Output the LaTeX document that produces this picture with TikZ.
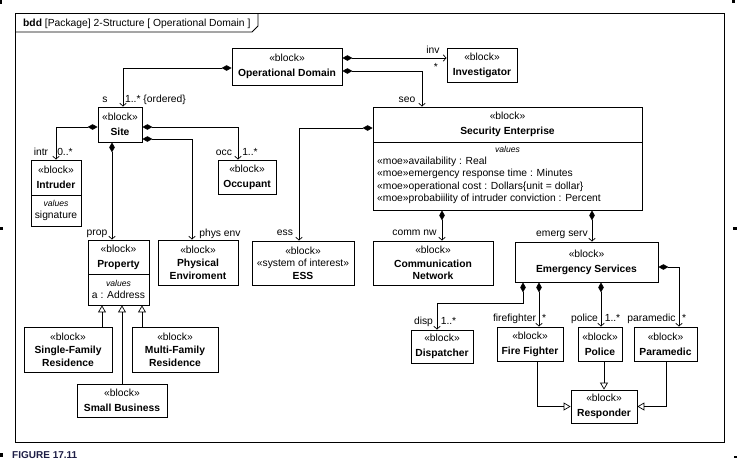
\documentclass[tikz,border=0pt]{standalone}
\usepackage{fontspec}
\setmainfont{Liberation Sans}
\usetikzlibrary{arrows.meta,calc}
\newcommand\fs{\fontsize{10.3}{12.3}\selectfont}
\newcommand\vfs{\fontsize{8.6}{9.5}\selectfont\itshape}
\newcommand\mkblk[6]{\node[blk,minimum width={#4-#2},minimum height={#5-#3}] (#1) at ({(#2+#4)/2},{(#3+#5)/2}) {#6};}
\tikzset{
  blk/.style={draw, line width=0.8pt, inner sep=0pt, align=center, font=\fs},
  assoc/.style={line width=0.7pt, arrows={Diamond[length=10pt,width=5.5pt]-Straight Barb[length=3pt,width=6.5pt]}},
  gen/.style={line width=0.7pt, arrows={-Triangle[open,length=7pt,width=8pt]}},
  lbl/.style={font=\fs, inner sep=0pt, anchor=base},
}
\begin{document}
\begin{tikzpicture}[x=1pt,y=-1pt]
\useasboundingbox (0,0) rectangle (737,459);
\clip (0,0) rectangle (737,459);
% crop marks
\fill (0,0) rectangle (2,4);
\fill (732,0) rectangle (735,3);
\fill (0,227) rectangle (3,230);
\fill (733,227) rectangle (737,230);
\fill (0,453) rectangle (3,457);
\fill (734,456) rectangle (737,458);
\node[anchor=base west, inner sep=0pt, font=\fontsize{10}{12}\selectfont\bfseries, text={rgb,255:red,30;green,30;blue,70}] (fig) at (12,458.3) {FIGURE 17.11};
% frame
\draw[line width=0.9pt] (15,13) rectangle (724,442);
\draw[line width=0.9pt] (15,32) -- (252,32) -- (258,26) -- (258,13);
\node[anchor=base west, inner sep=0pt, font=\fs] (title) at (23,26.5) {\textbf{bdd} [Package] 2-Structure [ Operational Domain ]};
% blocks
\mkblk{od}{232}{48}{342}{85}{«block»\\[2.5pt]\textbf{Operational Domain}}
\mkblk{inv}{447}{48}{517}{82}{«block»\\[2.5pt]\textbf{Investigator}}
\mkblk{site}{98}{107}{142}{142}{«block»\\[2.5pt]\textbf{Site}}
\mkblk{int}{31}{160}{81}{195}{«block»\\[2.5pt]\textbf{Intruder}}
\mkblk{intc}{31}{195}{81}{226}{{\vfs values}\\signature}
\mkblk{occ}{218}{160}{276}{194}{«block»\\[2.5pt]\textbf{Occupant}}
\mkblk{prop}{88}{240}{149}{274}{«block»\\[2.5pt]\textbf{Property}}
\mkblk{propc}{88}{274}{149}{305}{{\vfs values}\\a : Address}
\mkblk{pe}{158}{240}{238}{285}{«block»\\[1.5pt]\textbf{Physical}\\\textbf{Enviroment}}
\mkblk{sfr}{24}{327}{112}{372}{«block»\\[1.5pt]\textbf{Single-Family}\\\textbf{Residence}}
\mkblk{mfr}{132}{327}{218}{372}{«block»\\[1.5pt]\textbf{Multi-Family}\\\textbf{Residence}}
\mkblk{sb}{77}{384}{167}{417}{«block»\\[2.5pt]\textbf{Small Business}}
\mkblk{se}{373}{107}{642}{142}{«block»\\[2.5pt]\textbf{Security Enterprise}}
\mkblk{sec}{373}{142}{642}{210}{}
\node[font=\vfs, inner sep=0pt, anchor=base] (secv) at (507.5,152) {values};
\node[font=\fs, inner sep=0pt, anchor=base west] (m1) at (377,164.5) {«moe»availability : Real};
\node[font=\fs, inner sep=0pt, anchor=base west] (m2) at (377,176.8) {«moe»emergency response time : Minutes};
\node[font=\fs, inner sep=0pt, anchor=base west] (m3) at (377,189.1) {«moe»operational cost : Dollars\{unit = dollar\}};
\node[font=\fs, inner sep=0pt, anchor=base west] (m4) at (377,201.4) {«moe»probabiility of intruder conviction : Percent};
\mkblk{ess}{252}{241}{354}{285}{«block»\\«system of interest»\\[0.5pt]\textbf{ESS}}
\mkblk{cn}{373}{241}{493}{285}{«block»\\[1.5pt]\textbf{Communication}\\\textbf{Network}}
\mkblk{es}{515}{242}{658}{282}{«block»\\[2.5pt]\textbf{Emergency Services}}
\mkblk{disp}{411}{330}{473}{363}{«block»\\[2.5pt]\textbf{Dispatcher}}
\mkblk{ff}{497}{327}{563}{361}{«block»\\[2.5pt]\textbf{Fire Fighter}}
\mkblk{pol}{578}{327}{622}{361}{«block»\\[2.5pt]\textbf{Police}}
\mkblk{par}{634}{327}{697}{361}{«block»\\[2.5pt]\textbf{Paramedic}}
\mkblk{resp}{571}{390}{637}{423}{«block»\\[2.5pt]\textbf{Responder}}
% associations
\draw[assoc] ([yshift=-1.5]od.west) -| ([xshift=3]site.north);
\coordinate (pInv) at ([yshift=8.5]od.east);
\draw[assoc] (pInv) -- (pInv -| inv.west);
\draw[assoc] ([yshift=-4.5]od.east) -| ([xshift=-85.5]se.north);
\draw[assoc] ([yshift=-2.5]site.west) -| (int.north);
\draw[assoc] ([yshift=-2.5]site.east) -| ([xshift=-9]occ.north);
\draw[assoc] ([yshift=-14.5]site.east) -| ([xshift=-6]pe.north);
\coordinate (pProp) at ([xshift=-8]site.south);
\draw[assoc] (pProp) -- (pProp |- prop.north);
\draw[assoc] ([yshift=-3.5]se.west) -| ([xshift=-4]ess.north);
\coordinate (pCn) at ([xshift=-65.5]sec.south);
\draw[assoc] (pCn) -- (pCn |- cn.north);
\coordinate (pEs) at ([xshift=84.5]sec.south);
\draw[assoc] (pEs) -- (pEs |- es.north);
\draw[assoc] ([xshift=-63.5]es.south) -- ++(0,21) -| ([xshift=-5]disp.north);
\coordinate (pFf) at ([xshift=-47.5]es.south);
\draw[assoc] (pFf) -- (pFf |- ff.north);
\coordinate (pPol) at ([xshift=14.5]es.south);
\draw[assoc] (pPol) -- (pPol |- pol.north);
\draw[assoc] ([yshift=-5]es.east) -| ([xshift=13.5]par.north);
% generalizations
\draw[gen] ([xshift=7]ff.south) |- (resp.west);
\draw[gen] (resp.north |- pol.south) -- (resp.north);
\draw[gen] ([xshift=0.5]par.south) |- (resp.east);
\coordinate (g1) at ([xshift=-16.5]propc.south);
\draw[gen] (g1 |- sfr.north) -- (g1);
\coordinate (g2) at ([xshift=3.5]propc.south);
\draw[gen] (g2 |- sb.north) -- (g2);
\coordinate (g3) at ([xshift=23.5]propc.south);
\draw[gen] (g3 |- mfr.north) -- (g3);
% labels
\node[lbl] (l1) at (433,53.5) {inv};
\node[lbl] (l2) at (436,70) {*};
\node[lbl] (l3) at (407,102.5) {seo};
\node[lbl] (l4) at (105,102) {s};
\node[lbl] (l5) at (155.5,102) {1..* \{ordered\}};
\node[lbl] (l6) at (41,155.5) {intr};
\node[lbl] (l7) at (65,155.5) {0..*};
\node[lbl] (l8) at (224,155.5) {occ};
\node[lbl] (l9) at (250,155.5) {1..*};
\node[lbl] (l10) at (97,235.5) {prop};
\node[lbl] (l11) at (220,236) {phys env};
\node[lbl] (l12) at (285,235.5) {ess};
\node[lbl] (l13) at (414.5,235.5) {comm nw};
\node[lbl] (l14) at (562,236) {emerg serv};
\node[lbl] (l15) at (423.5,324) {disp};
\node[lbl] (l16) at (448.5,324) {1..*};
\node[lbl] (l17) at (514.5,321.5) {firefighter};
\node[lbl] (l18) at (544,321.5) {*};
\node[lbl] (l19) at (584.5,321.5) {police};
\node[lbl] (l20) at (612.5,321.5) {1..*};
\node[lbl] (l21) at (651.5,321.5) {paramedic};
\node[lbl] (l22) at (684,321.5) {*};
\end{tikzpicture}
\end{document}
